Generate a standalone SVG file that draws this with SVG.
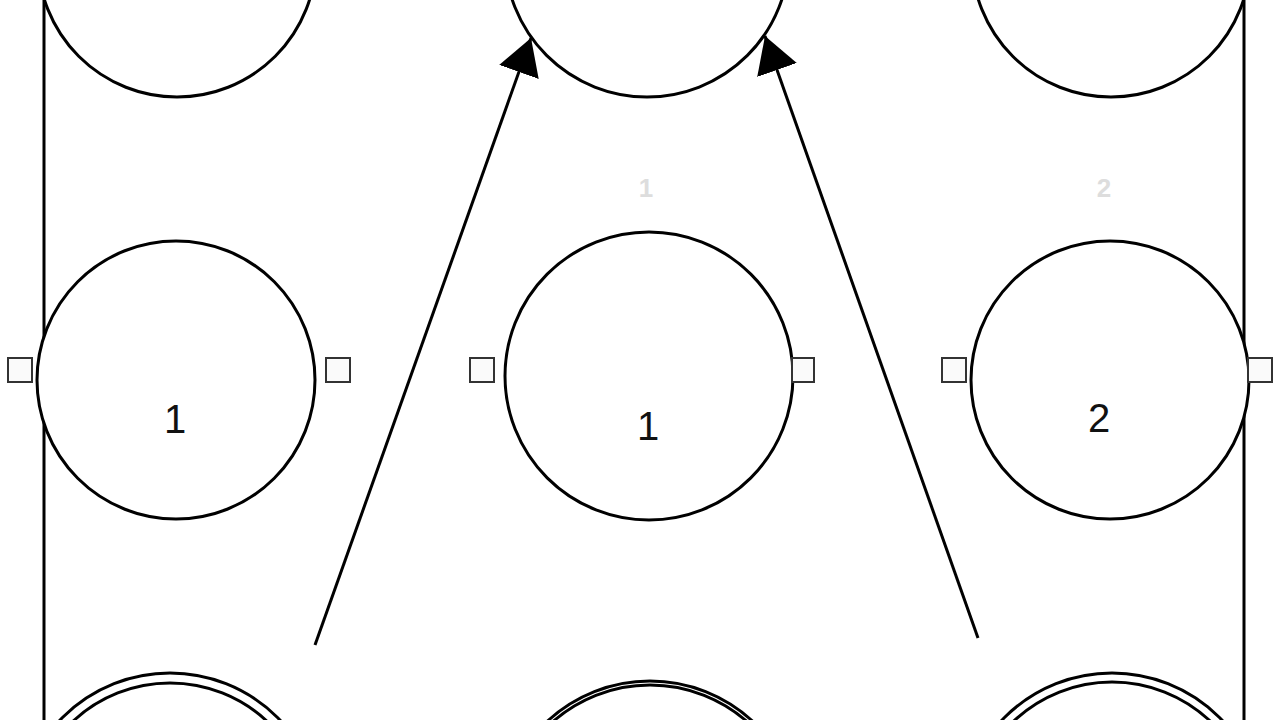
<svg xmlns="http://www.w3.org/2000/svg" width="1280" height="720" viewBox="0 0 1280 720">
<style>
.c{fill:#fff;stroke:#000;stroke-width:3}
.r{fill:none;stroke:#000;stroke-width:3}
.p{fill:#fafafa;stroke:#333;stroke-width:2}
.t{font-family:"Liberation Sans",Arial,sans-serif;font-size:40px;fill:#111;text-anchor:middle}
.f{font-family:"Liberation Sans",Arial,sans-serif;font-size:26px;font-weight:bold;fill:#ddd;text-anchor:middle}
.e{stroke:#000;stroke-width:3;fill:none}
</style>
<defs>
<marker id="ah2" viewBox="0 0 36 42" markerWidth="36" markerHeight="42" refX="36" refY="21" orient="auto" markerUnits="userSpaceOnUse">
<path d="M0,0 L36,21 L0,42 Z" fill="#000"/>
</marker>
</defs>
<rect width="1280" height="720" fill="#fff"/>
<g id="connectors">
<line class="e" x1="44" y1="0" x2="44" y2="720"/>
<line class="e" x1="1244" y1="0" x2="1244" y2="720"/>
<line class="e" x1="315" y1="645" x2="531" y2="38" marker-end="url(#ah2)"/>
<line class="e" x1="978" y1="638" x2="765" y2="36" marker-end="url(#ah2)"/>
</g>
<g id="top-left"><circle class="c" cx="177" cy="-42" r="139"/></g>
<g id="top-mid"><circle class="c" cx="647" cy="-45" r="142"/></g>
<g id="top-right"><circle class="c" cx="1111" cy="-42" r="139"/></g>
<g id="label-faint-1"><text class="f" x="646" y="197">1</text></g>
<g id="label-faint-2"><text class="f" x="1104" y="197">2</text></g>
<g id="node-left">
<circle class="c" cx="176" cy="380" r="139"/>
<rect class="p" x="8" y="358" width="24" height="24"/>
<rect class="p" x="326" y="358" width="24" height="24"/>
<text class="t" x="175" y="433">1</text>
</g>
<g id="node-mid">
<circle class="c" cx="649" cy="376" r="144"/>
<rect class="p" x="470" y="358" width="24" height="24"/>
<rect class="p" x="792" y="358" width="22" height="24"/>
<text class="t" x="648" y="440">1</text>
</g>
<g id="node-right">
<circle class="c" cx="1110" cy="380" r="139"/>
<rect class="p" x="942" y="358" width="24" height="24"/>
<rect class="p" x="1248" y="358" width="24" height="24"/>
<text class="t" x="1099" y="432">2</text>
</g>
<g id="bottom-left">
<circle class="c" cx="170" cy="825" r="152"/>
<circle class="r" cx="170" cy="825" r="142"/>
</g>
<g id="bottom-mid">
<circle class="c" cx="650" cy="832" r="151"/>
<circle class="r" cx="650" cy="832" r="147"/>
</g>
<g id="bottom-right">
<circle class="c" cx="1112" cy="825" r="152"/>
<circle class="r" cx="1112" cy="825" r="143"/>
</g>
</svg>
